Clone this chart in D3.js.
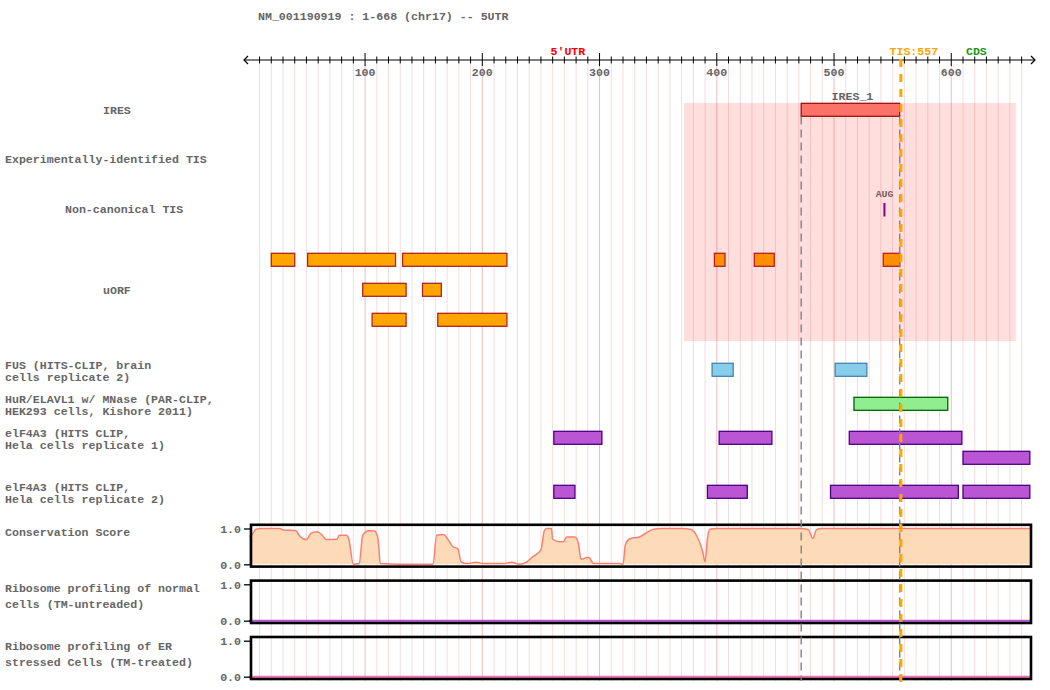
<!DOCTYPE html>
<html><head><meta charset="utf-8">
<script src="https://cdn.jsdelivr.net/npm/d3@7"></script>
<style>
body{margin:0;background:#fff}
svg text{font-family:"Liberation Mono",monospace;font-weight:bold}
</style>
</head><body><svg id="c" width="1050" height="690"></svg>
<script>
// ---------- data ----------
const titleText = "NM_001190919 : 1-668 (chr17) -- 5UTR";
const seqDomain = [1, 668];
const tisPos = 557;
const minorTicks = d3.range(10, 670, 10);
const majorTicks = [100, 200, 300, 400, 500, 600];
const iresRegions = [{name: "IRES_1", start: 472, end: 556}];
const iresHighlight = [372, 655];
const nonCanonicalTIS = [{codon: "AUG", pos: 543}];
const uorfRow1 = [[20, 40], [51, 126], [132, 221], [398, 407], [432, 449], [542, 556]];
const uorfRow2 = [[98, 135], [149, 165]];
const uorfRow3 = [[106, 135], [162, 221]];
const fusSites = [[396, 414], [501, 528]];
const hurSites = [[517, 597]];
const eifRep1RowA = [[261, 302], [402, 447], [513, 609]];
const eifRep1RowB = [[610, 667]];
const eifRep2 = [[261, 279], [392, 426], [497, 606], [610, 667]];
const consPos = [1,3,7,12,27,30,41,44,50,54,59,63,67,76,78,84,86,90,95,98,103,108,111,113,130,158,161,167,171,175,179,182,187,195,201,218,225,232,238,243,250,253,255,259,260,266,269,272,279,282,284,286,289,291,295,317,320,322,325,329,334,339,346,354,371,378,384,388,390,392,394,400,471,478,482,485,489,668];
const consVal = [0.78,0.80,0.98,1.0,1.0,0.96,0.94,0.80,0.69,0.87,0.91,0.83,0.69,0.70,0.81,0.81,0.72,0.0,0.02,0.81,0.94,0.93,0.72,0.02,0.0,0.0,0.81,0.83,0.68,0.49,0.44,0.07,0.02,0.06,0.02,0.02,0.06,0.0,0.07,0.21,0.40,0.95,1.0,1.0,0.70,0.63,0.63,0.76,0.76,0.58,0.15,0.15,0.19,0.19,0.02,0.02,0.0,0.54,0.70,0.74,0.76,0.86,0.98,1.0,1.0,0.97,0.72,0.35,0.07,0.72,0.98,1.0,1.0,0.97,0.72,0.97,1.0,1.0];
const riboNormalPos = [1, 668];
const riboNormalVal = [0, 0];
const riboStressPos = [1, 668];
const riboStressVal = [0, 0];
const yTickValues = [0, 1];

// ---------- drawing ----------
const svg = d3.select("#c");
const x = d3.scaleLinear().domain(seqDomain).range([249, 1031]);
const grey = "#666";
const FS = "11.6px";
const axisY = 60;

// grid lines
svg.append("g").selectAll("line").data(minorTicks).join("line")
  .attr("x1", d => x(d)).attr("x2", d => x(d))
  .attr("y1", 64).attr("y2", 681)
  .attr("stroke", d => d % 100 === 0 ? "#eebcbc" : "#f5dcdc").attr("stroke-width", 1);

// axis
const ax = svg.append("g");
ax.append("line").attr("x1", 244).attr("x2", 1035).attr("y1", axisY).attr("y2", axisY)
  .attr("stroke", "#000").attr("stroke-width", 1.2);
ax.append("path").attr("d", `M248,${axisY-4}L244,${axisY}L248,${axisY+4}`).attr("fill", "none").attr("stroke", "#000").attr("stroke-width", 1.2);
ax.append("path").attr("d", `M1031,${axisY-4}L1035,${axisY}L1031,${axisY+4}`).attr("fill", "none").attr("stroke", "#000").attr("stroke-width", 1.2);
ax.selectAll("line.t").data(minorTicks).join("line").attr("class", "t")
  .attr("x1", d => x(d)).attr("x2", d => x(d))
  .attr("y1", d => majorTicks.includes(d) ? axisY - 7 : axisY - 3.5)
  .attr("y2", d => majorTicks.includes(d) ? axisY + 6 : axisY + 3.5)
  .attr("stroke", "#000").attr("stroke-width", 1);
ax.selectAll("text").data(majorTicks).join("text")
  .attr("x", d => x(d)).attr("y", 76).attr("text-anchor", "middle")
  .attr("fill", grey).style("font-size", FS).text(d => d);

// title & region labels
svg.append("text").attr("x", 258).attr("y", 20).attr("fill", grey).style("font-size", FS).text(titleText);
svg.append("text").attr("x", x(273)).attr("y", 55).attr("text-anchor", "middle").attr("fill", "#ff0000").style("font-size", FS).text("5'UTR");
svg.append("text").attr("x", x(tisPos) + 13).attr("y", 55).attr("text-anchor", "middle").attr("fill", "#ffa500").style("font-size", FS).text("TIS:" + tisPos);
svg.append("text").attr("x", x(612.5)).attr("y", 55).attr("fill", "#1a961a").style("font-size", FS).text("CDS");

// left labels
const leftLabels = [
  {lines: ["IRES"], x: 103, y: 114, dy: 12},
  {lines: ["Experimentally-identified TIS"], x: 5, y: 163, dy: 12},
  {lines: ["Non-canonical TIS"], x: 65, y: 213, dy: 12},
  {lines: ["uORF"], x: 103, y: 294, dy: 12},
  {lines: ["FUS (HITS-CLIP, brain", "cells replicate 2)"], x: 5, y: 369, dy: 12},
  {lines: ["HuR/ELAVL1 w/ MNase (PAR-CLIP,", "HEK293 cells, Kishore 2011)"], x: 5, y: 403, dy: 12},
  {lines: ["elF4A3 (HITS CLIP,", "Hela cells replicate 1)"], x: 5, y: 437, dy: 12},
  {lines: ["elF4A3 (HITS CLIP,", "Hela cells replicate 2)"], x: 5, y: 491, dy: 12},
  {lines: ["Conservation Score"], x: 5, y: 536, dy: 12},
  {lines: ["Ribosome profiling of normal", "cells (TM-untreaded)"], x: 5, y: 592.3, dy: 16},
  {lines: ["Ribosome profiling of ER", "stressed Cells (TM-treated)"], x: 5, y: 650, dy: 15.5}
];
leftLabels.forEach(l => {
  const t = svg.append("text").attr("x", l.x).attr("y", l.y).attr("fill", grey).style("font-size", FS);
  l.lines.forEach((s, i) => t.append("tspan").attr("x", l.x).attr("dy", i ? l.dy : 0).text(s));
});

// bar helper
function bars(data, y, h, fill, stroke) {
  svg.append("g").selectAll("rect").data(data).join("rect")
    .attr("x", d => x(d[0])).attr("width", d => x(d[1]) - x(d[0]))
    .attr("y", y).attr("height", h)
    .attr("fill", fill).attr("stroke", stroke).attr("stroke-width", 1.3);
}
bars(uorfRow1, 253.3, 13, "#ffa500", "#b22222");
bars(uorfRow2, 283.3, 13, "#ffa500", "#b22222");
bars(uorfRow3, 313.3, 13, "#ffa500", "#b22222");

// IRES highlight region
svg.append("rect").attr("x", x(iresHighlight[0])).attr("width", x(iresHighlight[1]) - x(iresHighlight[0]))
  .attr("y", 103).attr("height", 238).attr("fill", "rgba(255,0,0,0.13)");

// IRES bars
svg.append("g").selectAll("rect").data(iresRegions).join("rect")
  .attr("x", d => x(d.start)).attr("width", d => x(d.end) - x(d.start))
  .attr("y", 103.3).attr("height", 13).attr("fill", "#fb7268").attr("stroke", "#a01010").attr("stroke-width", 1.3);
svg.append("g").selectAll("text").data(iresRegions).join("text")
  .attr("x", d => (x(d.start) + x(d.end)) / 2 + 2).attr("y", 99.5).attr("text-anchor", "middle")
  .attr("fill", grey).style("font-size", FS).text(d => d.name);

// non-canonical TIS
svg.append("g").selectAll("line").data(nonCanonicalTIS).join("line")
  .attr("x1", d => x(d.pos)).attr("x2", d => x(d.pos)).attr("y1", 203).attr("y2", 216.5)
  .attr("stroke", "#800080").attr("stroke-width", 2);
svg.append("g").selectAll("text").data(nonCanonicalTIS).join("text")
  .attr("x", d => x(d.pos)).attr("y", 197).attr("text-anchor", "middle")
  .attr("fill", "#7a5a5a").style("font-size", "9.8px").text(d => d.codon);

// CLIP tracks
bars(fusSites, 363.3, 13, "#87ceeb", "#4682b4");
bars(hurSites, 397.3, 13, "#90ee90", "#006400");
bars(eifRep1RowA, 431.3, 13, "#ba55d3", "#4b0082");
bars(eifRep1RowB, 451.3, 13, "#ba55d3", "#4b0082");
bars(eifRep2, 485.3, 13, "#ba55d3", "#4b0082");

// quantitative tracks
function track(y1, y0, pos, val, fill, stroke) {
  const y = d3.scaleLinear().domain([0, 1]).range([y0, y1]);
  const pts = pos.map((p, i) => [p, val[i]]);
  if (fill) {
    svg.append("path").datum(pts)
      .attr("d", d3.area().x(d => x(d[0])).y0(y(0)).y1(d => y(d[1])).curve(d3.curveMonotoneX))
      .attr("fill", fill).attr("stroke", "none");
  }
  svg.append("path").datum(pts)
    .attr("d", d3.line().x(d => x(d[0])).y(d => y(d[1])).curve(d3.curveMonotoneX))
    .attr("fill", "none").attr("stroke", stroke).attr("stroke-width", fill ? 1.5 : 2);
  svg.append("rect").attr("x", x(1) + 2).attr("width", x(668) - x(1) - 2)
    .attr("y", y1 - 3.7).attr("height", (y0 + 2.3) - (y1 - 3.7))
    .attr("fill", "none").attr("stroke", "#000").attr("stroke-width", 2.6);
  const g = svg.append("g").attr("transform", `translate(${x(1) + 1},0)`)
    .call(d3.axisLeft(y).tickValues(yTickValues).tickFormat(d3.format(".1f")).tickSize(6).tickPadding(3));
  g.select(".domain").remove();
  g.selectAll(".tick line").attr("stroke", "#000").attr("stroke-width", 1.3);
  g.selectAll(".tick text").attr("fill", grey).style("font-size", FS)
    .style("font-family", '"Liberation Mono",monospace').style("font-weight", "bold");
}
track(528.5, 564.3, consPos, consVal, "#fddab8", "#fa8072");
track(584.3, 620.7, riboNormalPos, riboNormalVal, null, "#b84fe0");
track(640.7, 676.7, riboStressPos, riboStressVal, null, "#ff69b4");

// IRES boundary dashed lines
iresRegions.forEach(r => {
  [r.start, r.end].forEach(p => {
    svg.append("line").attr("x1", x(p)).attr("x2", x(p)).attr("y1", 116.5).attr("y2", 681)
      .attr("stroke", "#808080").attr("stroke-width", 1.4).attr("stroke-dasharray", "8,5");
  });
});

// TIS line
svg.append("line").attr("x1", x(tisPos)).attr("x2", x(tisPos)).attr("y1", 59).attr("y2", 683)
  .attr("stroke", "#ffa500").attr("stroke-width", 3).attr("stroke-dasharray", "8,7");
</script>
</body></html>
